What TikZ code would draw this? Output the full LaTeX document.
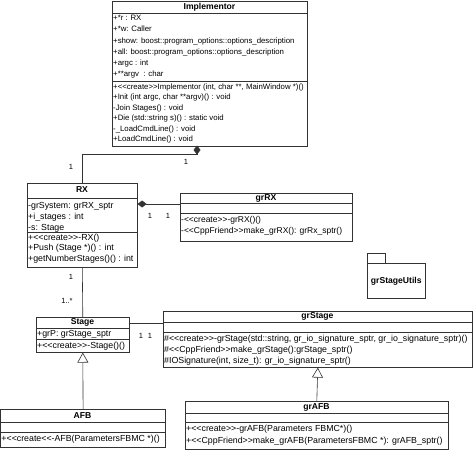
\documentclass[tikz,border=0pt]{standalone}
\usepackage{fontspec}
\setmainfont{Liberation Sans}[Ligatures=TeXOff]
\usetikzlibrary{arrows.meta}
\tikzset{
  classbox/.style={draw=black!80, fill=white, line width=.6pt, inner sep=0pt, anchor=north west},
  member/.style={font=\fontsize{8.8}{10}\selectfont, inner sep=0pt, anchor=west, text height=6.5pt, text depth=1.8pt},
  implmember/.style={member, font=\fontsize{7.8}{9}\selectfont},
  ctitle/.style={member, font=\fontsize{8.6}{10}\selectfont\bfseries, anchor=center},
  mult/.style={font=\fontsize{7.5}{8}\selectfont, inner sep=0pt},
  link/.style={draw=black!80, line width=.6pt},
  compose/.style={link, -{Diamond[length=9pt, width=7pt]}},
  inherit/.style={link, -{Triangle[open, length=10pt, width=11pt, fill=white]}},
}

\begin{document}
\begin{tikzpicture}[x=1pt, y=-1pt]
\useasboundingbox (0,0) rectangle (474,450);
% Implementor
\node[classbox, minimum width=195pt, minimum height=145pt] (impl) at (112,0.5) {};
\foreach \y in {13,81} \draw[link] (impl.west |- 0,\y) -- (impl.east |- 0,\y);
\node[ctitle] (impl-t) at (209.5,7) {Implementor};
\foreach \t [count=\i] in {+*r : RX, +*w: Caller, +show: boost::program\_options::options\_description,
  +all: boost::program\_options::options\_description, +argc : int, +**argv \ : char}
  \node[implmember] (impl-a\i) at (113,{7.2+11.2*\i}) {\t};
\foreach \t [count=\i] in {{+<<create>>Implementor (int, char **, MainWindow *)()}, {+Init (int argc, char **argv)() : void},
  -Join Stages() : void, +Die (std::string s)() : static void, -\_LoadCmdLine() : void, +LoadCmdLine() : void}
  \node[implmember] (impl-m\i) at (113,{76.5+10.5*\i}) {\t};
% RX
\node[classbox, minimum width=110pt, minimum height=84pt] (rx) at (27,183) {};
\foreach \y in {198,232} \draw[link] (rx.west |- 0,\y) -- (rx.east |- 0,\y);
\node[ctitle] (rx-t) at (82,190.5) {RX};
\foreach \t [count=\i] in {-grSystem: grRX\_sptr, +i\_stages : int, -s: Stage}
  \node[member] (rx-a\i) at (28,{195+11*\i}) {\t};
\foreach \t [count=\i] in {+<<create>>-RX(), +Push (Stage *)() : int, +getNumberStages()() : int}
  \node[member] (rx-m\i) at (28,{227.5+10.5*\i}) {\t};
% grRX
\node[classbox, minimum width=172pt, minimum height=48pt] (grrx) at (180,193) {};
\foreach \y in {203,213} \draw[link] (grrx.west |- 0,\y) -- (grrx.east |- 0,\y);
\node[ctitle] (grrx-t) at (266,198) {grRX};
\foreach \t [count=\i] in {-<<create>>-grRX()(), -<<CppFriend>>make\_grRX(): grRx\_sptr()}
  \node[member, font=\fontsize{8.5}{10}\selectfont] (grrx-m\i) at (181,{209.5+11*\i}) {\t};
% grStageUtils
\node[classbox, minimum width=18pt, minimum height=10pt] (utils-tab) at (367,253) {};
\node[classbox, minimum width=58pt, minimum height=35pt, font=\fontsize{8.6}{10}\selectfont\bfseries] (utils) at (367,263) {grStageUtils};
% Stage
\node[classbox, minimum width=93pt, minimum height=35pt] (stage) at (36,317) {};
\foreach \y in {328,339} \draw[link] (stage.west |- 0,\y) -- (stage.east |- 0,\y);
\node[ctitle] (stage-t) at (82.5,322.5) {Stage};
\node[member] (stage-a1) at (37,334) {+grP: grStage\_sptr};
\node[member] (stage-m1) at (37,346) {+<<create>>-Stage()()};
% grStage
\node[classbox, minimum width=309pt, minimum height=56pt] (grstage) at (163,311) {};
\foreach \y in {322,332} \draw[link] (grstage.west |- 0,\y) -- (grstage.east |- 0,\y);
\node[ctitle] (grstage-t) at (317.5,316.5) {grStage};
\foreach \t [count=\i] in {{\#<<create>>-grStage(std::string, gr\_io\_signature\_sptr, gr\_io\_signature\_sptr)()},
  \#<<CppFriend>>make\_grStage():grStage\_sptr(), {\#IOSignature(int, size\_t): gr\_io\_signature\_sptr()}}
  \node[member] (grstage-m\i) at (164,{328+11*\i}) {\t};
% AFB
\node[classbox, minimum width=165pt, minimum height=38pt] (afb) at (0.3,409) {};
\foreach \y in {422,432} \draw[link] (afb.west |- 0,\y) -- (afb.east |- 0,\y);
\node[ctitle] (afb-t) at (82.5,416) {AFB};
\node[member] (afb-m1) at (1.3,439) {+<<create<<-AFB(ParametersFBMC *)()};
% grAFB
\node[classbox, minimum width=263pt, minimum height=48pt] (grafb) at (185,401) {};
\foreach \y in {413,422} \draw[link] (grafb.west |- 0,\y) -- (grafb.east |- 0,\y);
\node[ctitle] (grafb-t) at (316.5,407) {grAFB};
\foreach \t [count=\i] in {+<<create>>-grAFB(Parameters FBMC*)(), +<<CppFriend>>make\_grAFB(ParametersFBMC *): grAFB\_sptr()}
  \node[member] (grafb-m\i) at (186,{417+12*\i}) {\t};
% connectors
\coordinate (impl-d) at (197,145.5);
\draw[compose] (rx.north) |- ([yshift=-9pt]impl-d) -- (impl-d);
\coordinate (rx-d) at (rx.east |- 0,204);
\draw[compose] (grrx.west |- rx-d) -- (rx-d);
\draw[link] (rx.south) -- (stage.north);
\coordinate (stage-a) at (stage.east |- 0,323);
\draw[link] (stage-a) -- (grstage.west |- stage-a);
\draw[inherit] (afb.north) -- (stage.south);
\draw[inherit] (grafb.north) -- (grstage.south);
% multiplicities
\node[mult] (m-impl) at (186,162) {1};
\node[mult] (m-rx1) at (71,167) {1};
\node[mult] (m-rx2) at (150,216) {1};
\node[mult] (m-grrx) at (168,216) {1};
\node[mult] (m-rx3) at (71,277) {1};
\node[mult] (m-stage) at (67,301) {1..*};
\node[mult] (m-stage2) at (141,336) {1};
\node[mult] (m-grstage) at (150,336) {1};
\end{tikzpicture}
\end{document}
